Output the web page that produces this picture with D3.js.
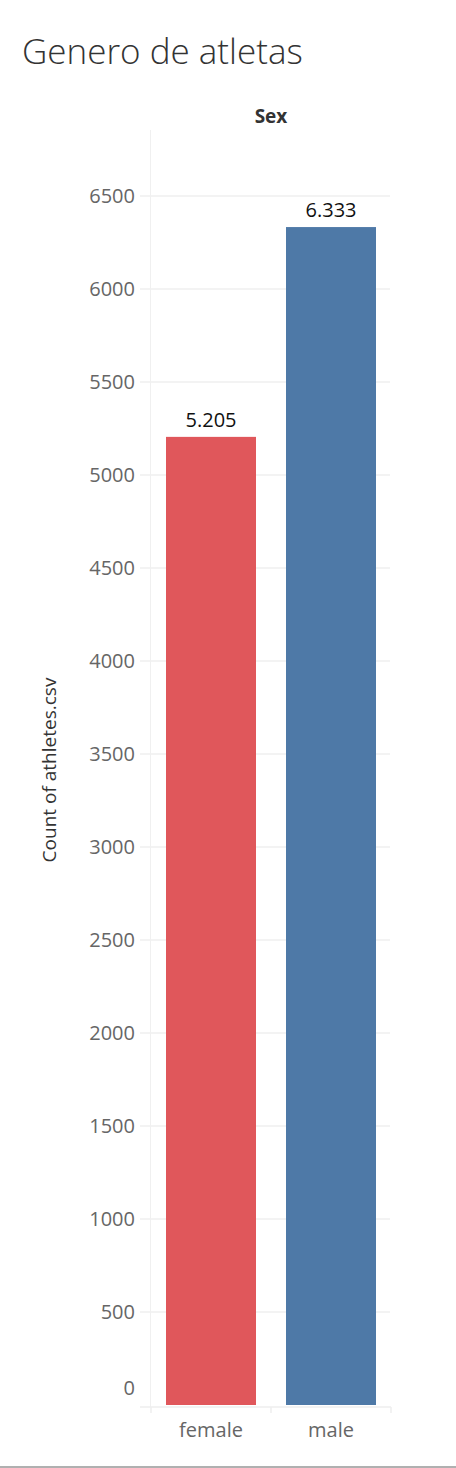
<!DOCTYPE html>
<html><head><meta charset="utf-8">
<script src="https://cdn.jsdelivr.net/npm/d3@7"></script>
<style>body{margin:0;background:#fff}text{font-family:"Open Sans","Noto Sans",sans-serif}</style>
</head><body><div id="chart"></div>
<script>
const categories = ["female", "male"];
const counts = [5205, 6333];
const labels = ["5.205", "6.333"];
const tickValues = [0, 500, 1000, 1500, 2000, 2500, 3000, 3500, 4000, 4500, 5000, 5500, 6000, 6500];
const colors = ["#e0575b", "#4e79a7"];

const W = 456, H = 1468;
const svg = d3.select("#chart").append("svg").attr("width", W).attr("height", H);

svg.append("text").attr("x", 22).attr("y", 64)
  .attr("font-size", 35).attr("font-weight", 300).attr("fill", "#333")
  .text("Genero de atletas");
svg.append("text").attr("x", 271).attr("y", 123).attr("text-anchor", "middle")
  .attr("font-size", 19).attr("font-weight", 700).attr("fill", "#333").text("Sex");

const x = d3.scaleBand().domain(categories).range([151, 391]).paddingInner(0.25).paddingOuter(0.125);
const y = d3.scaleLinear().domain([0, 6500]).range([1405, 196]);

// gridlines
svg.append("g").selectAll("line").data(tickValues.slice(1)).join("line")
  .attr("x1", 140).attr("x2", 390).attr("y1", d => y(d)).attr("y2", d => y(d))
  .attr("stroke", "#efefef").attr("stroke-width", 1.5);
svg.append("line").attr("x1", 150.5).attr("x2", 150.5).attr("y1", 130).attr("y2", 1407)
  .attr("stroke", "#f0f0f0");

// y tick labels
svg.append("g").selectAll("text").data(tickValues).join("text")
  .attr("x", 135).attr("y", d => d === 0 ? y(d) - 17 : y(d))
  .attr("dy", "0.35em").attr("text-anchor", "end")
  .attr("font-size", 20).attr("fill", "#666").text(d => d);

svg.append("text").attr("transform", "translate(56,770) rotate(-90)")
  .attr("text-anchor", "middle").attr("font-size", 19).attr("fill", "#333")
  .text("Count of athletes.csv");

// bars
svg.append("g").selectAll("rect").data(categories).join("rect")
  .attr("x", d => x(d)).attr("width", x.bandwidth())
  .attr("y", (d, i) => y(counts[i])).attr("height", (d, i) => y(0) - y(counts[i]))
  .attr("fill", (d, i) => colors[i]);
svg.append("g").selectAll("text").data(categories).join("text")
  .attr("x", d => x(d) + x.bandwidth() / 2).attr("y", (d, i) => y(counts[i]) - 10)
  .attr("text-anchor", "middle").attr("font-size", 20).attr("fill", "#111")
  .text((d, i) => labels[i]);

// bottom axis
svg.append("line").attr("x1", 140).attr("x2", 391).attr("y1", 1407).attr("y2", 1407)
  .attr("stroke", "#eee").attr("stroke-width", 1.5);
svg.append("g").selectAll("line").data([151, 271, 391]).join("line")
  .attr("x1", d => d).attr("x2", d => d).attr("y1", 1407).attr("y2", 1413)
  .attr("stroke", "#eee").attr("stroke-width", 1.5);
svg.append("g").selectAll("text").data(categories).join("text")
  .attr("x", d => x(d) + x.bandwidth() / 2).attr("y", 1437)
  .attr("text-anchor", "middle").attr("font-size", 20).attr("fill", "#666").text(d => d);

svg.append("rect").attr("x", 0).attr("y", 1466).attr("width", W).attr("height", 2).attr("fill", "#b0b0b0");
</script></body></html>
